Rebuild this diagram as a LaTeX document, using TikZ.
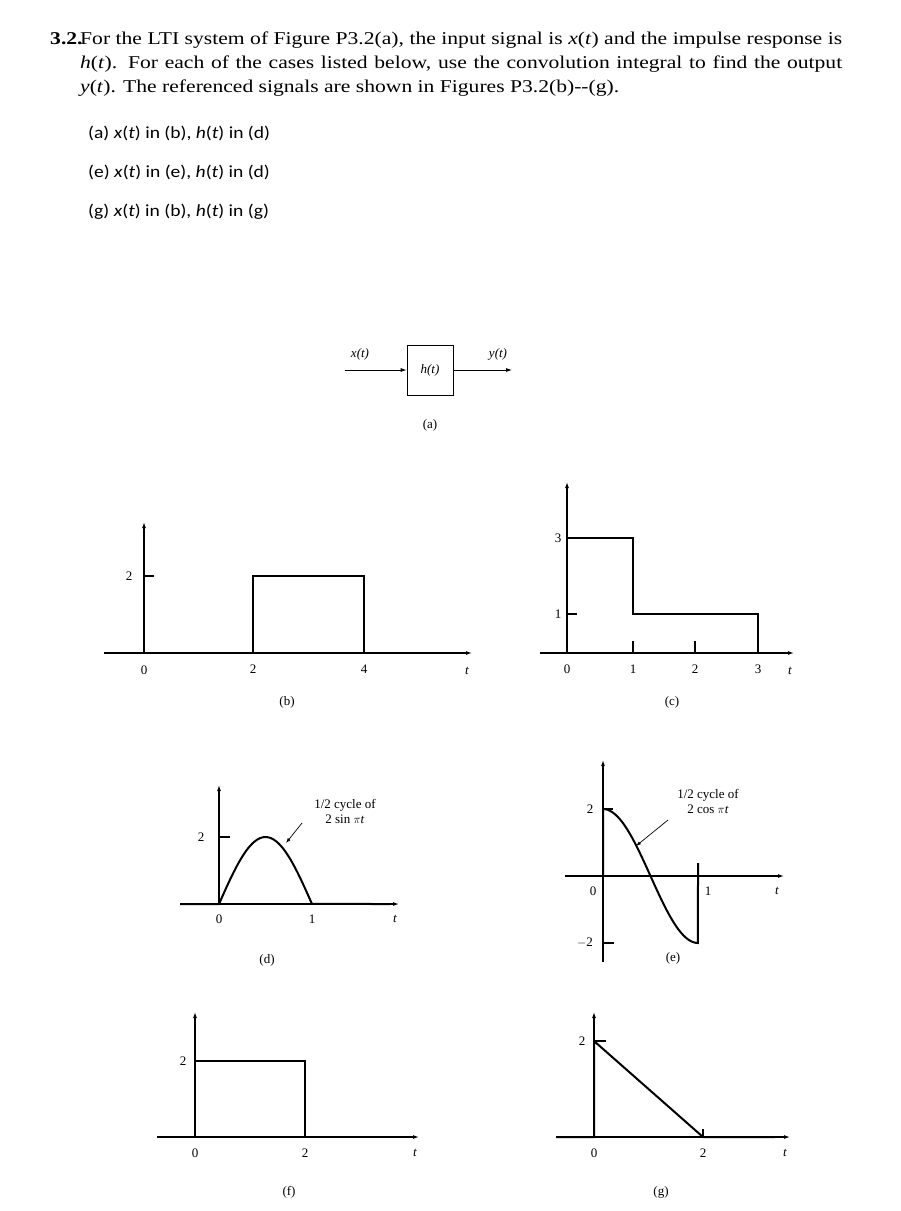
\documentclass[tikz,border=0pt]{standalone}
\usepackage{fontspec}
\setmainfont{Liberation Serif}
\newfontfamily\headfont{Liberation Serif}[FakeStretch=1.2]
\newfontfamily\itemfont{Carlito}[FakeStretch=1.15]
\usetikzlibrary{arrows.meta}
\begin{document}
\begin{tikzpicture}[x=1pt,y=-1pt,
  ax/.style={line width=1.1pt,-{Latex[length=6pt,width=4pt]}},
  sig/.style={line width=2pt,line join=miter},
  lab/.style={font=\fontsize{13}{15}\selectfont,inner sep=1pt},
  tl/.style={font=\fontsize{13}{15}\selectfont\itshape,inner sep=1pt},
  tk/.style={line width=1.1pt},
  itm/.style={anchor=west,font=\itemfont\fontsize{17}{20}\selectfont,inner sep=0pt}]
\useasboundingbox (0,0) rectangle (901,1211);
% header
\node[anchor=north west,inner sep=0pt,font=\headfont\bfseries\fontsize{18}{24}\selectfont] (num) at (50,32) {3.2.};
\node[anchor=north west,inner sep=0pt,text width=762pt,align=justify,font=\headfont\fontsize{18}{24}\selectfont] (txt) at (80,32)
 {For the LTI system of Figure P3.2(a), the input signal is \textit{x}(\textit{t}) and the impulse response is \textit{h}(\textit{t}). For each of the cases listed below, use the convolution integral to find the output \textit{y}(\textit{t}). The referenced signals are shown in Figures P3.2(b)--(g).};
\node[itm] (i1) at (88,133) {(a) \textit{x}(\textit{t}) in (b), \textit{h}(\textit{t}) in (d)};
\node[itm] (i2) at (88,172) {(e) \textit{x}(\textit{t}) in (e), \textit{h}(\textit{t}) in (d)};
\node[itm] (i3) at (88,212) {(g) \textit{x}(\textit{t}) in (b), \textit{h}(\textit{t}) in (g)};
% (a) block
\node[draw,line width=0.8pt,minimum width=46pt,minimum height=50pt,tl] (h) at (430,370) {h(t)};
\coordinate (ain) at (345,370); \coordinate (aout) at (512,370);
\draw[line width=0.8pt,-{Latex[length=6pt,width=4pt]}] (ain) -- (h.west);
\draw[line width=0.8pt,-{Latex[length=6pt,width=4pt]}] (h.east) -- (aout);
\node[tl] (xl) at (360,354) {x(t)};
\node[tl] (yl) at (498,354) {y(t)};
\node[lab] (ca) at (430,425) {(a)};
% (b)
\draw[ax] (104,653) -- (472,653);
\draw[ax] (144,653) -- (144,522);
\draw[tk] (144,576) -- (154,576);
\draw[sig] (104,653) -- (253,653) -- (253,576) -- (364,576) -- (364,653) -- (462,653);
\node[lab] at (129,576) {2};
\node[lab] at (144,670) {0};
\node[lab] at (253,669) {2};
\node[lab] at (364,669) {4};
\node[tl] at (467,671) {t};
\node[lab] (cb) at (287,702) {(b)};
% (c)
\draw[ax] (540,653) -- (794,653);
\draw[ax] (567,653) -- (567,482);
\draw[tk] (567,614) -- (577,614);
\draw[tk] (695,653) -- (695,641);
\draw[tk] (633,653) -- (633,641);
\draw[sig] (540,653) -- (567,653) -- (567,538) -- (633,538) -- (633,614) -- (758,614) -- (758,653) -- (785,653);
\node[lab] at (558,538) {3};
\node[lab] at (558,614) {1};
\node[lab] at (567,669) {0};
\node[lab] at (633,669) {1};
\node[lab] at (695,669) {2};
\node[lab] at (758,669) {3};
\node[tl] at (790,671) {t};
\node[lab] (cc) at (672,702) {(c)};
% (d)
\draw[ax] (180,904) -- (399,904);
\draw[ax] (219,904) -- (219,785);
\draw[tk] (219,837) -- (230,837);
\draw[sig] (180,904) -- (219,904) plot[domain=0:1,samples=40] ({219+93*\x},{904-67*sin(180*\x)}) -- (390,904);
\node[lab] at (201,837) {2};
\node[lab] at (219,919) {0};
\node[lab] at (312,919) {1};
\node[tl] at (395,919) {t};
\node[lab,align=center] (dtx) at (345,811) {1/2 cycle of\\ 2 sin \textit{$\pi$t}};
\coordinate (dtip) at (286,843);
\draw[line width=0.7pt,-{Latex[length=5pt,width=3.5pt]}] (302,823) -- (dtip);
\node[lab] (cd) at (267,960) {(d)};
% (e)
\draw[ax] (565,876) -- (784,876);
\draw[ax] (603,962) -- (603,760);
\draw[tk] (603,943) -- (614,943);
\draw[tk] (698,876) -- (698,863);
\draw[sig] (603,876) -- (603,809) plot[domain=0:1,samples=40] ({603+95*\x},{876-67*cos(180*\x)}) -- (698,863);
\draw[tk] (603,809) -- (613,809);
\node[lab] at (590,809) {2};
\node[lab] at (585,943) {$-$2};
\node[lab] at (593,891) {0};
\node[lab] at (708,891) {1};
\node[tl] at (777,891) {t};
\node[lab,align=center] (etx) at (708,801) {1/2 cycle of\\ 2 cos \textit{$\pi$t}};
\coordinate (etip) at (636,846);
\draw[line width=0.7pt,-{Latex[length=5pt,width=3.5pt]}] (668,820) -- (etip);
\node[lab] (ce) at (673,958) {(e)};
% (f)
\draw[ax] (157,1137) -- (419,1137);
\draw[ax] (195,1137) -- (195,1012);
\draw[sig] (157,1137) -- (195,1137) -- (195,1061) -- (305,1061) -- (305,1137) -- (405,1137);
\node[lab] at (183,1061) {2};
\node[lab] at (195,1153) {0};
\node[lab] at (305,1153) {2};
\node[tl] at (415,1153) {t};
\node[lab] (cf) at (289,1192) {(f)};
% (g)
\draw[ax] (556,1137) -- (790,1137);
\draw[ax] (594,1137) -- (594,1012);
\draw[tk] (594,1041) -- (606,1041);
\draw[tk] (703,1137) -- (703,1129);
\draw[sig] (556,1137) -- (594,1137) -- (594,1041) -- (703,1137) -- (775,1137);
\node[lab] at (582,1041) {2};
\node[lab] at (594,1153) {0};
\node[lab] at (703,1153) {2};
\node[tl] at (785,1153) {t};
\node[lab] (cg) at (661,1192) {(g)};
\end{tikzpicture}
\end{document}
